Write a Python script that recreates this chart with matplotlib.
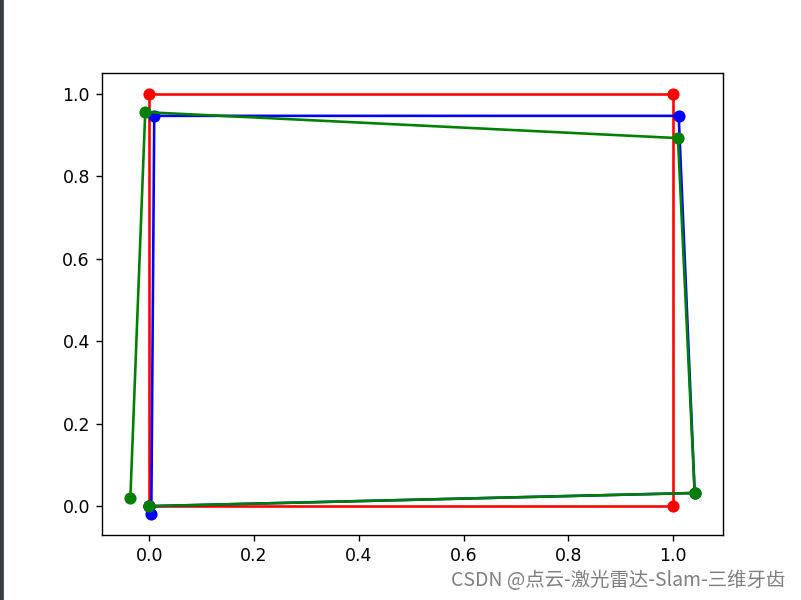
import matplotlib
matplotlib.use("Agg")
import matplotlib.pyplot as plt
from matplotlib.patches import Rectangle

# Reference square (red)
red_x = [0.0, 1.0, 1.0, 0.0, 0.0]
red_y = [0.0, 0.0, 1.0, 1.0, 0.0]

# Blue quadrilateral
blue_x = [0.004, 0.0096, 1.0105, 1.041, 0.0]
blue_y = [-0.019, 0.947, 0.947, 0.032, 0.0]

# Green quadrilateral
green_x = [-0.036, -0.0076, 1.009, 1.041, 0.0]
green_y = [0.019, 0.956, 0.893, 0.032, 0.0]

watermark = "CSDN @点云-激光雷达-Slam-三维牙齿"

fig = plt.figure(figsize=(6.408, 4.8), dpi=125)
ax = fig.add_axes([(0.125 * 801 + 2) / 801, (0.11 * 600 - 1) / 600, 0.775, 0.77])
ax.plot(red_x, red_y, "o-", color="red")
ax.plot(blue_x, blue_y, "o-", color="blue")
ax.plot(green_x, green_y, "o-", color="green")

# dark strip at the left edge of the screenshot
fig.patches.append(Rectangle((0, 0), 2.5 / 801, 1, transform=fig.transFigure,
                             color="#3a3d42", zorder=10))

fig.text(0.98, 0.033, watermark, ha="right", va="center", fontsize=11.2,
         color="#808080", family=["Noto Sans CJK SC", "DejaVu Sans"])

fig.savefig("out.png", dpi=125)
